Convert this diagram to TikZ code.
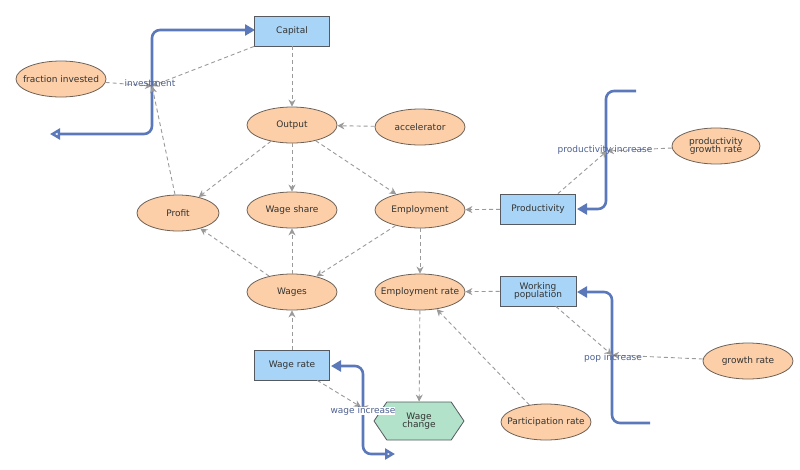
\documentclass[tikz,border=0pt]{standalone}
\usepackage{fontspec}
\setmainfont{DejaVu Sans}
\usetikzlibrary{shapes.geometric,shapes.symbols,arrows.meta}
\definecolor{peach}{HTML}{FCCFA8}
\definecolor{peachborder}{HTML}{6E6258}
\definecolor{boxblue}{HTML}{A8D5F7}
\definecolor{boxborder}{HTML}{555A60}
\definecolor{flowblue}{HTML}{5B78BA}
\definecolor{depgray}{HTML}{9A9A9A}
\definecolor{labelblue}{HTML}{4E6192}
\definecolor{wgreen}{HTML}{B2E2C9}
\definecolor{txt}{HTML}{333333}
\tikzset{
  var/.style={ellipse, draw=peachborder, fill=peach, line width=0.8pt, minimum width=90, minimum height=36, inner xsep=-14pt, inner ysep=0pt, text=txt, font=\fontsize{9}{10.5}\selectfont, align=center},
  stock/.style={rectangle, draw=boxborder, fill=boxblue, line width=0.8pt, minimum width=75, minimum height=30, inner sep=1pt, text=txt, font=\fontsize{9}{10.5}\selectfont, align=center},
  conv/.style={signal, signal to=east and west, signal pointer angle=112, draw=boxborder, fill=wgreen, line width=0.8pt, minimum width=90, minimum height=38, inner sep=1pt, text=txt, font=\fontsize{9}{10.5}\selectfont, align=center},
  valvelbl/.style={text=labelblue, font=\fontsize{9}{10.5}\selectfont, inner sep=0pt},
  dep/.style={draw=depgray, line width=0.9pt, dash pattern=on 4pt off 3pt, -{Stealth[length=7pt,width=7pt]}},
  flow/.style={draw=flowblue, line width=2.6pt, rounded corners=8pt},
}
\begin{document}
\begin{tikzpicture}[x=1pt,y=-1pt]
\useasboundingbox[fill=white] (0,0) rectangle (800,469);

% valve points
\coordinate (inv) at (152,86);
\coordinate (pinc) at (607,151);
\coordinate (popinc) at (612,355);
\coordinate (winc) at (361,407);

% flows
\draw[flow, {Triangle[open,length=10pt,width=11pt,fill=white]}-{Triangle[length=10pt,width=11pt]}] (50,134) -- (152,134) -- (152,30) -- (255,30);
\draw[flow, -{Triangle[length=10pt,width=11pt]}] (636,91) -- (606,91) -- (606,209) -- (577,209);
\draw[flow, -{Triangle[length=10pt,width=11pt]}] (650,423) -- (612,423) -- (612,292) -- (577,292);
\draw[flow, {Triangle[length=10pt,width=11pt]}-{Triangle[open,length=10pt,width=11pt,fill=white]}] (331,366) -- (363,366) -- (363,454) -- (395,454);

% nodes
\node[stock] (cap) at (292,31) {Capital};
\node[var] (out) at (292,125) {Output};
\node[var] (acc) at (420,127) {accelerator};
\node[var] (frac) at (61,79) {fraction invested};
\node[var, minimum width=82] (prof) at (178,213) {Profit};
\node[var] (wshare) at (292,210) {Wage share};
\node[var] (emp) at (420,210) {Employment};
\node[stock] (prod) at (538,209) {Productivity};
\node[var, minimum width=88] (pgr) at (716,146) {productivity\\[-2pt]growth rate};
\node[var] (wages) at (292,292) {Wages};
\node[var] (emprate) at (420,292) {Employment rate};
\node[stock, minimum width=76] (wpop) at (538,291) {Working\\[-2pt]population};
\node[var] (gr) at (748,361) {growth rate};
\node[stock] (wrate) at (292,365) {Wage rate};
\node[conv] (wchange) at (419,421) {Wage\\[-2pt]change};
\node[var] (part) at (546,422) {Participation rate};

% dependencies
\draw[dep] (cap) -- (out);
\draw[dep] (cap.south west) -- (inv);
\draw[dep] (frac) -- (inv);
\draw[dep] (prof.north) ++(-3,0) -- (inv);
\draw[dep] (acc) -- (out);
\draw[dep] (out) -- (prof);
\draw[dep] (out) -- (wshare);
\draw[dep] (out) -- (emp);
\draw[dep] (prod) -- (emp);
\draw[dep] (emp) -- (wages);
\draw[dep] (emp) -- (emprate);
\draw[dep] (wages) -- (prof);
\draw[dep] (wages) -- (wshare);
\draw[dep] (wrate) -- (wages);
\draw[dep] (wpop) -- (emprate);
\draw[dep] (part) -- (emprate);
\draw[dep] (emprate) -- (wchange);
\draw[dep] (wrate) -- (winc);
\draw[dep] (wchange) -- (winc);
\draw[dep] (wpop) -- (popinc);
\draw[dep] (gr) -- (popinc);
\draw[dep] (prod.north east) ++(-18,0) -- (pinc);
\draw[dep] (pgr) -- (pinc);

% valve labels
\node[valvelbl] (invl) at (150,83) {investment};
\node[valvelbl] (pincl) at (605,150) {productivity increase};
\node[valvelbl] (popl) at (613,358) {pop increase};
\node[valvelbl, fill=white] (wincl) at (363,411) {wage increase};
\end{tikzpicture}
\end{document}
